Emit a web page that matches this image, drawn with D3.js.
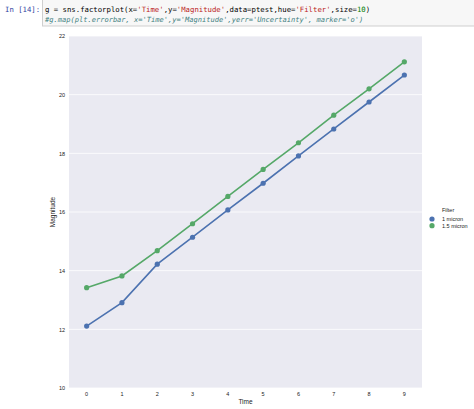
<!DOCTYPE html>
<html><head><meta charset="utf-8">
<script src="https://cdn.jsdelivr.net/npm/d3@7"></script>
<style>
html,body{margin:0;padding:0;background:#fff;}
svg{display:block;}
</style></head>
<body>
<svg id="c" width="474" height="409"></svg>
<script>
const times = [0,1,2,3,4,5,6,7,8,9];
const seriesNames = ["1 micron","1.5 micron"];
const mag1 = [12.11,12.91,14.22,15.14,16.07,16.98,17.91,18.83,19.75,20.67];
const mag15 = [13.42,13.82,14.68,15.60,16.53,17.45,18.36,19.30,20.20,21.12];
const yTicks = [10,12,14,16,18,20,22];
const colors = ["#4c72b0","#55a868"];

const svg = d3.select("#c");

// notebook code cell
svg.append("rect").attr("x",42.5).attr("y",-1).attr("width",440).attr("height",27)
  .attr("fill","#f7f7f7").attr("stroke","#cfcfcf");
svg.append("text").attr("x",5).attr("y",12).attr("font-family","DejaVu Sans Mono")
  .attr("font-size",7.3).attr("fill","#303f9f").text("In [14]:");
const l1 = svg.append("text").attr("x",45).attr("y",12).attr("font-family","DejaVu Sans Mono")
  .attr("font-size",7.3).attr("fill","#000").attr("xml:space","preserve");
[["g = sns.factorplot(x=","#000"],["'Time'","#ba2121"],[",y=","#000"],["'Magnitude'","#ba2121"],
 [",data=ptest,hue=","#000"],["'Filter'","#ba2121"],[",size=","#000"],["10","#008000"],[")","#000"]]
 .forEach(([t,c])=>l1.append("tspan").attr("fill",c).text(t));
svg.append("text").attr("x",45).attr("y",22).attr("font-family","DejaVu Sans Mono")
  .attr("font-size",7.05).attr("font-style","italic").attr("fill","#408080")
  .text("#g.map(plt.errorbar, x='Time',y='Magnitude',yerr='Uncertainty', marker='o')");

const L=69, R=422, T=36, B=388;
const x = d3.scaleBand().domain(times).range([L,R]);
const y = d3.scaleLinear().domain([10,22]).range([B,T]);

svg.append("rect").attr("x",L).attr("y",T).attr("width",R-L).attr("height",B-T).attr("fill","#eaeaf2");

const gy = svg.append("g").attr("transform",`translate(${L},0)`)
  .call(d3.axisLeft(y).tickValues(yTicks).tickSize(0).tickPadding(4));
gy.select(".domain").remove();
gy.selectAll("text").attr("font-family","Liberation Sans").attr("font-size",5.5).attr("fill","#222");
svg.append("g").selectAll("line").data(yTicks).join("line")
  .attr("x1",L).attr("x2",R).attr("y1",d=>y(d)).attr("y2",d=>y(d))
  .attr("stroke","#fff").attr("stroke-width",0.8);

const gx = svg.append("g").attr("transform",`translate(0,${B})`)
  .call(d3.axisBottom(x).tickSize(0).tickPadding(4));
gx.select(".domain").remove();
gx.selectAll("text").attr("font-family","Liberation Sans").attr("font-size",5.5).attr("fill","#222");

svg.append("text").attr("x",(L+R)/2).attr("y",404).attr("text-anchor","middle")
  .attr("font-family","Liberation Sans").attr("font-size",6.5).attr("fill","#222").text("Time");
svg.append("text").attr("transform",`translate(55,${(T+B)/2}) rotate(-90)`).attr("text-anchor","middle")
  .attr("font-family","Liberation Sans").attr("font-size",6.5).attr("fill","#222").text("Magnitude");

const data = [mag1, mag15];
const line = d3.line().x((d,i)=>x(times[i])+x.bandwidth()/2).y(d=>y(d));
data.forEach((vals,k)=>{
  svg.append("path").datum(vals).attr("d",line).attr("fill","none")
    .attr("stroke",colors[k]).attr("stroke-width",1.6);
  svg.append("g").selectAll("circle").data(vals).join("circle")
    .attr("cx",(d,i)=>x(times[i])+x.bandwidth()/2).attr("cy",d=>y(d)).attr("r",2.6)
    .attr("fill",colors[k]);
});

// legend
const lg = svg.append("g");
lg.append("text").attr("x",442).attr("y",212).attr("font-family","Liberation Sans")
  .attr("font-size",5.5).attr("fill","#222").text("Filter");
seriesNames.forEach((n,k)=>{
  lg.append("circle").attr("cx",432).attr("cy",219+k*6.7).attr("r",2.6).attr("fill",colors[k]);
  lg.append("text").attr("x",442).attr("y",221+k*6.7).attr("font-family","Liberation Sans")
    .attr("font-size",5.5).attr("fill","#222").text(n);
});
</script>
</body></html>
